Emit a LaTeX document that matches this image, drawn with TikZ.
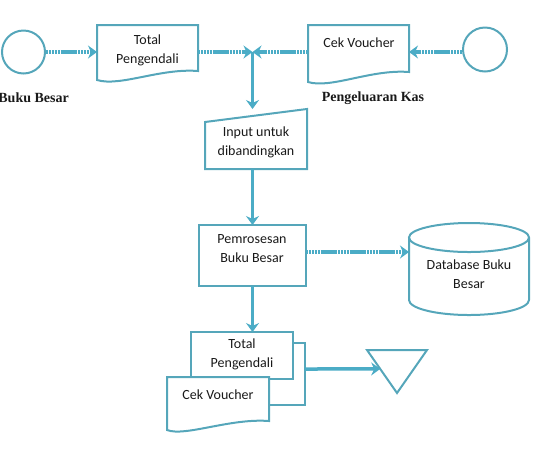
\documentclass[tikz,border=0pt]{standalone}
\usepackage{fontspec}
\setmainfont{Carlito}
\newfontfamily\lblfont{Liberation Serif}
\usetikzlibrary{arrows.meta,calc}
\definecolor{ln}{HTML}{4BACC6}
\definecolor{ol}{HTML}{55A6BA}
\begin{document}
\begin{tikzpicture}[x=1pt,y=-1pt,
  shp/.style={draw=ol,line width=2pt},
  circ/.style={circle,draw=ol,line width=2pt,inner sep=0,minimum size=#1},
  box/.style 2 args={draw=none,inner sep=0,outer sep=0,minimum width=#1,minimum height=#2},
  conn/.style={draw=ln,line width=3.5pt,-{Stealth[length=9pt,width=13pt,inset=3pt]}},
  dconn/.style={conn,dash pattern=on 2.4pt off 0.5pt},
  txt/.style={font=\fontsize{14}{19}\selectfont,align=center,inner sep=0,text=black!90},
  lbl/.style={font=\lblfont\bfseries\fontsize{14}{17}\selectfont,inner sep=0,text=black!90}]
\useasboundingbox (0,0) rectangle (534,459);

% anchor nodes
\node[circ=43pt] (c1) at (23.5,52) {};
\node[box={101pt}{54pt}] (tp) at (147.5,52) {};
\node[box={101pt}{54pt}] (cv) at (358.5,52) {};
\node[circ=44pt] (c2) at (485,49.5) {};
\coordinate (j) at (252.5,52);
\node[box={102pt}{60pt}] (in) at (256,139) {};
\node[box={107pt}{61pt}] (pb) at (252.5,255.5) {};
\node[box={120pt}{92pt}] (db) at (469,269) {};
\node[box={102pt}{47pt}] (md) at (242,355.5) {};
\node[box={36pt}{62pt}] (bk) at (287,374) {};
\node[box={102pt}{48pt}] (fr) at (218,401) {};
\node[box={60pt}{43pt}] (tri) at (397,371.5) {};

% shapes
\draw[shp] (97,25) -- (198,25) -- (198,71) .. controls (160,68) and (120,87) .. (97,80) -- cycle;
\draw[shp] (308,25) -- (409,25) -- (409,72) .. controls (371,69) and (331,89) .. (308,82) -- cycle;
\draw[shp] (205,122) -- (307,109) -- (307,169) -- (205,169) -- cycle;
\draw[shp] (199,225) rectangle (306,286);
\draw[shp] (469,237.5) ellipse [x radius=60pt, y radius=14.5pt];
\draw[shp] (409,237.5) -- (409,300) arc[start angle=180, end angle=360, x radius=60pt, y radius=15pt] -- (529,237.5);
\draw[shp] (293,343) -- (305,343) -- (305,405) -- (269,405);
\draw[shp] (191,377) -- (191,332) -- (293,332) -- (293,379) -- (269,379);
\draw[shp] (167,377) -- (269,377) -- (269,421) .. controls (230,418) and (185,437) .. (167,430) -- cycle;
\draw[shp] (tri.north west) -- (tri.north east) -- (tri.south) -- cycle;

% texts
\node[txt] (tpt) at (147.5,50) {Total\\Pengendali};
\node[txt] (cvt) at (359,43) {Cek Voucher};
\node[txt] (int) at (256,142.5) {Input untuk\\dibandingkan};
\node[txt] (pbt) at (252,249) {Pemrosesan\\Buku Besar};
\node[txt] (dbt) at (469,274) {Database Buku\\Besar};
\node[txt] (mdt) at (242,354) {Total\\Pengendali};
\node[txt] (frt) at (218,395) {Cek Voucher};
\node[lbl,anchor=east] (l1) at (69,98) {Buku Besar};
\node[lbl] (l2) at (373,98) {Pengeluaran Kas};

% connectors
\draw[dconn] (c1.east) -- (tp.west);
\draw[dconn] (tp.east) -- (j);
\draw[dconn] (cv.west) -- (j);
\draw[dconn] (c2.west |- cv.east) -- (cv.east);
\draw[conn] (j) -- (j |- in.north);
\draw[conn] (pb.north |- in.south) -- (pb.north);
\draw[dconn] ([yshift=3.5pt]pb.east) -- ([yshift=3.5pt]pb.east -| db.west);
\draw[conn] (pb.south) -- (pb.south |- md.north);
\draw[conn] ([yshift=5pt]bk.east) -- ($(tri.north west)!0.44!(tri.south)$);
\end{tikzpicture}
\end{document}
